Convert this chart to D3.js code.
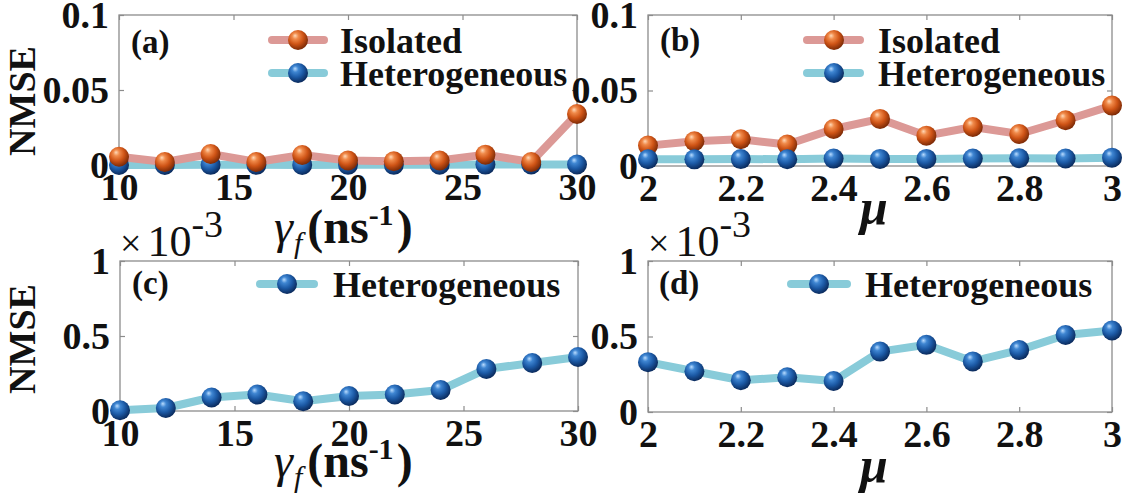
<!DOCTYPE html>
<html>
<head>
<meta charset="utf-8">
<script src="https://cdn.jsdelivr.net/npm/d3@7/dist/d3.min.js"></script>
<style>
  html, body { margin: 0; padding: 0; background: #fff; }
  svg { display: block; }
  text { font-family: "Liberation Serif", "Times New Roman", serif; }
</style>
</head>
<body>
<svg id="chart" width="1125" height="500"></svg>
<script>
// ---------------- data ----------------
const gammaF = [10, 12, 14, 16, 18, 20, 22, 24, 26, 28, 30];
const mu = [2.0, 2.1, 2.2, 2.3, 2.4, 2.5, 2.6, 2.7, 2.8, 2.9, 3.0];

const aIsolated      = [0.0055, 0.0020, 0.0073, 0.0020, 0.0067, 0.0030, 0.0025, 0.0030, 0.0069, 0.0020, 0.0340];
const aHeterogeneous = [0.00001, 0.00002, 0.00009, 0.00011, 0.00007, 0.00010, 0.00011, 0.00014, 0.00028, 0.00032, 0.00036];

const bIsolated      = [0.0135, 0.0164, 0.0177, 0.0142, 0.0245, 0.0312, 0.0201, 0.0258, 0.0212, 0.0303, 0.0400];
const bHeterogeneous = [0.0045, 0.0044, 0.0046, 0.0045, 0.0049, 0.0047, 0.0047, 0.0049, 0.0051, 0.0050, 0.0055];

// values in units of 1e-3
const cHeterogeneous = [0.005, 0.02, 0.09, 0.11, 0.065, 0.10, 0.11, 0.14, 0.28, 0.32, 0.36];
const dHeterogeneous = [0.33, 0.27, 0.21, 0.23, 0.205, 0.40, 0.445, 0.335, 0.41, 0.51, 0.54];

const gammaTicks = [10, 15, 20, 25, 30];
const muTicks = [2, 2.2, 2.4, 2.6, 2.8, 3];
const yTicksTop = [0, 0.05, 0.1];
const yTickLabelsTop = ["0", "0.05", "0.1"];
const yTicksBottom = [0, 0.5, 1];
const yTickLabelsBottom = ["0", "0.5", "1"];
const seriesNames = ["Isolated", "Heterogeneous"];
const panelLabels = ["(a)", "(b)", "(c)", "(d)"];

// ---------------- style ----------------
const isoLine = "#dc9996";
const hetLine = "#88cbd9";
const boxColor = "#8c8c8c";

const svg = d3.select("#chart");
const defs = svg.append("defs");

function sphereGrad(id, stops) {
  const g = defs.append("radialGradient").attr("id", id)
    .attr("cx", "0.42").attr("cy", "0.38").attr("r", "0.62")
    .attr("fx", "0.35").attr("fy", "0.28");
  stops.forEach(s => g.append("stop").attr("offset", s[0]).attr("stop-color", s[1]));
}
sphereGrad("gOrange", [[0, "#ffd9b8"], [0.25, "#f08a4a"], [0.6, "#cf5416"], [1, "#7c2a06"]]);
sphereGrad("gBlue", [[0, "#b9dcff"], [0.25, "#3f86d2"], [0.6, "#1c5aa6"], [1, "#0a2a5c"]]);

const styles = {
  iso: { line: isoLine, fill: "url(#gOrange)" },
  het: { line: hetLine, fill: "url(#gBlue)" }
};

const panels = [
  { x0: 119, x1: 577, y0: 15, y1: 165, xs: gammaF, xDom: [10, 30], xTicks: gammaTicks, xFmt: d => d3.format("d")(d),
    yDom: [0, 0.1], yTicks: yTicksTop, yLabels: yTickLabelsTop,
    series: [["het", aHeterogeneous], ["iso", aIsolated]],
    legend: [["iso", seriesNames[0]], ["het", seriesNames[1]]],
    legX: [272, 324, 298, 340], legY: [40, 73], label: panelLabels[0], labXY: [131, 53] },
  { x0: 648, x1: 1112, y0: 15, y1: 166, xs: mu, xDom: [2, 3], xTicks: muTicks, xFmt: d => d3.format("")(d),
    yDom: [0, 0.1], yTicks: yTicksTop, yLabels: yTickLabelsTop,
    series: [["iso", bIsolated], ["het", bHeterogeneous]],
    legend: [["iso", seriesNames[0]], ["het", seriesNames[1]]],
    legX: [807, 860, 834, 878], legY: [40, 73], label: panelLabels[1], labXY: [660, 51] },
  { x0: 120, x1: 578, y0: 261, y1: 411, xs: gammaF, xDom: [10, 30], xTicks: gammaTicks, xFmt: d => d3.format("d")(d),
    yDom: [0, 1], yTicks: yTicksBottom, yLabels: yTickLabelsBottom,
    series: [["het", cHeterogeneous]],
    legend: [["het", seriesNames[1]]],
    legX: [260, 314, 287, 333], legY: [284], label: panelLabels[2], labXY: [132, 294] },
  { x0: 648, x1: 1112, y0: 261, y1: 412, xs: mu, xDom: [2, 3], xTicks: muTicks, xFmt: d => d3.format("")(d),
    yDom: [0, 1], yTicks: yTicksBottom, yLabels: yTickLabelsBottom,
    series: [["het", dHeterogeneous]],
    legend: [["het", seriesNames[1]]],
    legX: [791, 847, 819, 865], legY: [284], label: panelLabels[3], labXY: [659, 294] }
];

const R = 10;
const tickFont = 38;

panels.forEach(p => {
  const x = d3.scaleLinear().domain(p.xDom).range([p.x0, p.x1]);
  const y = d3.scaleLinear().domain(p.yDom).range([p.y1, p.y0]);
  const g = svg.append("g");

  // box
  g.append("rect").attr("x", p.x0).attr("y", p.y0)
    .attr("width", p.x1 - p.x0).attr("height", p.y1 - p.y0)
    .attr("fill", "none").attr("stroke", boxColor).attr("stroke-width", 1.3);

  // axes (ticks inside)
  const axB = g.append("g").attr("transform", `translate(0,${p.y1})`)
    .call(d3.axisBottom(x).tickValues(p.xTicks).tickSize(-5).tickPadding(8).tickFormat(p.xFmt));
  const axT = g.append("g").attr("transform", `translate(0,${p.y0})`)
    .call(d3.axisTop(x).tickValues(p.xTicks).tickSize(-5).tickFormat(""));
  const axL = g.append("g").attr("transform", `translate(${p.x0},0)`)
    .call(d3.axisLeft(y).tickValues(p.yTicks).tickSize(-5).tickPadding(10).tickFormat((d, i) => p.yLabels[i]));
  const axR = g.append("g").attr("transform", `translate(${p.x1},0)`)
    .call(d3.axisRight(y).tickValues(p.yTicks).tickSize(-5).tickFormat(""));
  [axB, axT, axL, axR].forEach(a => {
    a.select(".domain").remove();
    a.selectAll(".tick line").attr("stroke", boxColor).attr("stroke-width", 1.2);
    a.selectAll(".tick text").attr("fill", "#111").attr("font-size", tickFont)
      .attr("font-weight", "bold").attr("font-family", "Liberation Serif");
  });

  // series
  p.series.forEach(([key, vals]) => {
    const st = styles[key];
    const pts = p.xs.map((xv, i) => [xv, vals[i]]);
    g.append("path").datum(pts)
      .attr("d", d3.line().x(d => x(d[0])).y(d => y(d[1])))
      .attr("fill", "none").attr("stroke", st.line).attr("stroke-width", 8)
      .attr("stroke-linejoin", "round");
  });
  p.series.forEach(([key, vals]) => {
    const st = styles[key];
    g.selectAll(null).data(p.xs.map((xv, i) => [xv, vals[i]])).enter()
      .append("circle").attr("cx", d => x(d[0])).attr("cy", d => y(d[1]))
      .attr("r", R).attr("fill", st.fill);
  });

  // legend
  p.legend.forEach(([key, name], i) => {
    const st = styles[key];
    const ly = p.legY[i];
    g.append("line").attr("x1", p.legX[0]).attr("x2", p.legX[1]).attr("y1", ly).attr("y2", ly)
      .attr("stroke", st.line).attr("stroke-width", 8).attr("stroke-linecap", "round");
    g.append("circle").attr("cx", p.legX[2]).attr("cy", ly).attr("r", R).attr("fill", st.fill);
    g.append("text").attr("x", p.legX[3]).attr("y", ly + 13)
      .attr("font-size", 36).attr("font-weight", "bold").attr("fill", "#111").text(name);
  });

  // panel label
  g.append("text").attr("x", p.labXY[0]).attr("y", p.labXY[1])
    .attr("font-size", 33).attr("font-weight", "bold").attr("fill", "#111").text(p.label);
});

// y-axis titles
[[35, 101], [35, 339]].forEach(([cx, cy]) => {
  svg.append("text").attr("transform", `translate(${cx},${cy}) rotate(-90)`)
    .attr("text-anchor", "middle").attr("font-size", 38).attr("font-weight", "bold")
    .attr("fill", "#111").text("NMSE");
});

// x-axis titles: gamma_f (ns^-1)
function gammaTitle(x0, base) {
  const t = svg.append("text").attr("x", x0).attr("y", base).attr("fill", "#111").attr("font-size", 48);
  t.append("tspan").attr("font-style", "italic").text("γ");
  t.append("tspan").attr("font-style", "italic").attr("font-size", 30).attr("dy", 10).attr("dx", 1).text("f");
  t.append("tspan").attr("font-weight", "bold").attr("dy", -10).attr("dx", 5).text("(ns");
  t.append("tspan").attr("font-weight", "bold").attr("font-size", 30).attr("dy", -18).text("-1");
  t.append("tspan").attr("font-weight", "bold").attr("dy", 18).attr("dx", 3).text(")");
}
gammaTitle(274, 243);
gammaTitle(274, 477);

function muTitle(cx, base) {
  svg.append("text").attr("x", cx).attr("y", base).attr("text-anchor", "middle")
    .attr("font-size", 50).attr("font-weight", "bold").attr("font-style", "italic")
    .attr("fill", "#111").text("μ");
}
muTitle(874, 224);
muTitle(874, 482);

// exponent labels
function expLabel(x0, base) {
  const t = svg.append("text").attr("x", x0).attr("y", base).attr("fill", "#111").attr("font-size", 44);
  t.append("tspan").attr("font-size", 38).text("×");
  t.append("tspan").attr("dx", 6).text("10");
  t.append("tspan").attr("font-size", 38).attr("dy", -19).text("-3");
}
expLabel(120, 256);
expLabel(648, 256);
</script>
</body>
</html>
